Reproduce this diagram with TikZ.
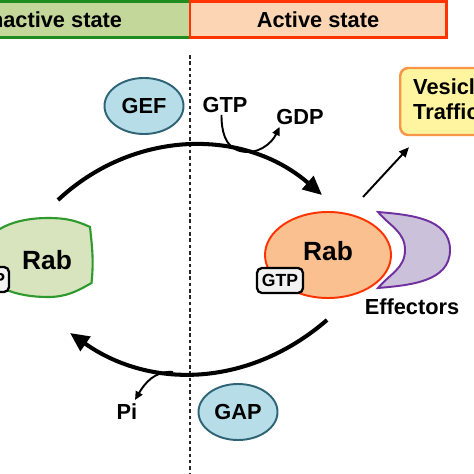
\documentclass[tikz,border=0pt]{standalone}
\usepackage{fontspec}
\setmainfont{Liberation Sans}
\usepackage{xcolor}
\usepackage{tikz}
\usetikzlibrary{arrows.meta, positioning, shapes.geometric}

\definecolor{hijauGaris}{HTML}{1E8C1E}
\definecolor{hijauIsi}{HTML}{C4D79B}
\definecolor{rabHijau}{HTML}{2E9A2E}
\definecolor{rabHijauIsi}{HTML}{D7E4BD}
\definecolor{merahGaris}{HTML}{FF3300}
\definecolor{merahIsi}{HTML}{FCD5B5}
\definecolor{rabOranye}{HTML}{FAC090}
\definecolor{enzIsi}{HTML}{B7DEE8}
\definecolor{enzGaris}{HTML}{2F6476}
\definecolor{effGaris}{HTML}{7030A0}
\definecolor{effIsi}{HTML}{CCC1DA}
\definecolor{vesGaris}{HTML}{F79646}
\definecolor{vesIsi}{HTML}{FFF5A0}

\begin{document}
\begin{tikzpicture}[
    font=\fontsize{12.4}{14.5}\selectfont\bfseries,
    header/.style={draw, line width=1.7pt, minimum height=0.72cm, inner sep=0pt},
    enzim/.style={ellipse, draw=enzGaris, fill=enzIsi, line width=1.1pt,
                  minimum width=1.58cm, minimum height=1.12cm, inner sep=0pt},
    label/.style={inner sep=1pt},
    rabteks/.style={font=\fontsize{15}{18}\selectfont\bfseries},
    tagbox/.style={draw, line width=1.3pt, rounded corners=0.1cm, fill=black!5,
                   minimum width=0.92cm, minimum height=0.5cm, inner sep=0pt,
                   font=\fontsize{10}{12}\selectfont\bfseries},
    siklus/.style={-{Triangle[length=3.8mm, width=3.4mm]}, line width=2.3pt},
    panah/.style={-{Triangle[length=1.7mm, width=1.5mm]}, line width=1.1pt},
    pemisah/.style={dashed, dash pattern=on 2pt off 1.6pt, line width=0.8pt, black!85}
  ]
    \useasboundingbox (0,0) rectangle (9.48,-9.48);
    \clip (0,0) rectangle (9.48,-9.48);

    % header bar
    \node[header, draw=hijauGaris, fill=hijauIsi, minimum width=5.48cm] (hdrIn) at (1.06,-0.4) {Inactive state};
    \node[header, draw=merahGaris, fill=merahIsi, minimum width=5.12cm] (hdrAct) at (6.36,-0.4) {Active state};
    \coordinate (divTop) at (3.8,-1.1);
    \coordinate (divBot) at (3.8,-9.6);
    \draw[pemisah] (divTop) -- (divBot);

    % enzymes and small molecules
    \node[enzim] (gef) at (2.88,-2.12) {GEF};
    \node[enzim] (gap) at (4.76,-8.24) {GAP};
    \node[label] (gtp) at (4.5,-2.1) {GTP};
    \node[label] (gdp) at (6.0,-2.34) {GDP};
    \node[label] (pi) at (2.54,-8.24) {Pi};

    % inactive Rab
    \draw[draw=rabHijau, fill=rabHijauIsi, line width=1.2pt]
      (1.8,-4.54) to[out=155,in=0] (0.95,-4.36) to[out=180,in=90] (-0.35,-5.16)
      to[out=-90,in=180] (0.95,-5.94) to[out=0,in=-150] (1.83,-5.66)
      to[out=84,in=-84] cycle;
    \node[rabteks] (rabIn) at (0.94,-5.2) {Rab};
    \node[tagbox] (gdpTag) at (-0.28,-5.59) {GDP};

    % active Rab and effectors
    \node[ellipse, draw=merahGaris, fill=rabOranye, line width=1.1pt, rabteks, text depth=4.5pt,
          minimum width=2.52cm, minimum height=1.72cm] (rabAct) at (6.56,-5.1) {Rab};
    \node[tagbox] (gtpTag) at (5.6,-5.61) {GTP};
    \draw[draw=effGaris, fill=effIsi, line width=1.1pt]
      (7.56,-4.24) to[out=-5,in=90] (9.0,-5.0) to[out=-90,in=5] (7.56,-5.76)
      to[out=50,in=-90] (8.1,-5.0) to[out=90,in=-50] cycle;
    \node[label] (effLbl) at (8.24,-6.14) {Effectors};

    \node[draw=vesGaris, fill=vesIsi, line width=1.4pt, rounded corners=0.16cm,
          align=left, anchor=west, minimum height=1.34cm, inner xsep=0.26cm] (ves) at (7.98,-2.03) {Vesicle\\Trafficking};

    % cycle arrows
    \coordinate (majuA) at (1.16,-4.0);
    \coordinate (majuB) at (6.44,-3.9);
    \draw[siklus] (majuA) to[bend left=42] (majuB);
    \coordinate (balikA) at (6.54,-6.4);
    \coordinate (balikB) at (1.4,-6.66);
    \draw[siklus] (balikA) to[bend left=38] (balikB);

    \coordinate (tukar) at (4.8,-3.02);
    \draw[panah] ([xshift=-2pt]gtp.south) to[out=-90,in=165] (tukar) to[out=-15,in=-115] ([xshift=3pt]gdp.south west);
    \coordinate (lepas) at (3.46,-7.44);
    \draw[panah] (lepas) to[out=175,in=60] ([xshift=0.16cm,yshift=0.04cm]pi.north);
    \coordinate (keluar) at (7.26,-3.94);
    \draw[panah, -{Triangle[length=2mm, width=1.7mm]}] (keluar) -- ([xshift=0.2cm,yshift=-0.22cm]ves.south west);
  \end{tikzpicture}
\end{document}
